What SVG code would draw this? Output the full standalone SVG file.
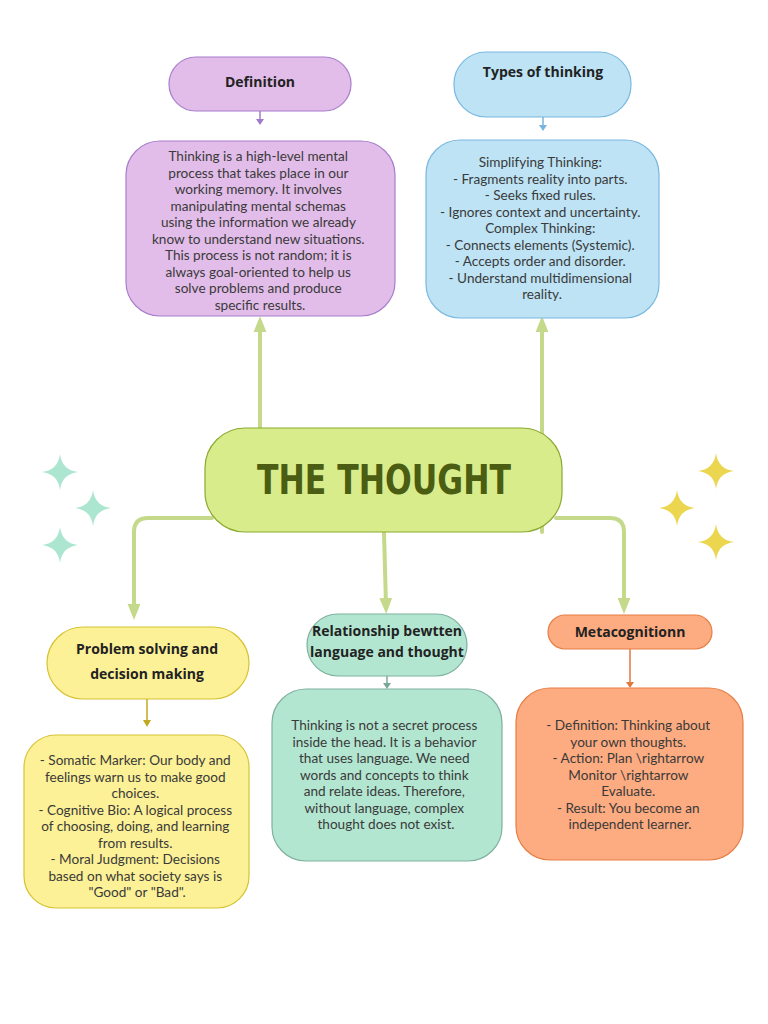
<svg xmlns="http://www.w3.org/2000/svg" width="768" height="1024" viewBox="0 0 768 1024">
<defs>
<style>
.body{font-family:Lato,"Open Sans","DejaVu Sans",sans-serif;font-size:13.6px;fill:#3a3a3a;text-anchor:middle}
.head{font-family:"Open Sans",Lato,"DejaVu Sans",sans-serif;font-size:14px;font-weight:bold;fill:#222;text-anchor:middle}
.conn{fill:none;stroke:#c5d98a;stroke-width:4;stroke-linecap:round}
</style>
<marker id="ga" viewBox="0 0 10 10" refX="5" refY="5" markerWidth="4" markerHeight="4" orient="auto">
<path d="M0,1 L10,5 L0,9 Z" fill="#c5d98a"/>
</marker>
<g id="spark">
<path d="M0,-18 Q2,-2 18,0 Q2,2 0,18 Q-2,2 -18,0 Q-2,-2 0,-18 Z"/>
</g>
</defs>
<rect width="768" height="1024" fill="#ffffff"/>

<g id="connectors">
<path class="conn" d="M260,428 V324" marker-end="url(#ga)"/>
<path class="conn" d="M542,532 V324" marker-end="url(#ga)"/>
<path class="conn" d="M212,518 H148 Q134,518 134,532 V612" marker-end="url(#ga)"/>
<path class="conn" d="M384,532 L386,606" marker-end="url(#ga)"/>
<path class="conn" d="M556,518 H610 Q624,518 624,532 V606" marker-end="url(#ga)"/>
<path d="M260,111 V121" stroke="#a07cc8" stroke-width="1.5"/>
<path d="M256,119 L264,119 L260,125 Z" fill="#a07cc8"/>
<path d="M543,117 V127" stroke="#7ab4dc" stroke-width="1.5"/>
<path d="M539,125 L547,125 L543,131 Z" fill="#7ab4dc"/>
<path d="M147,699 V722" stroke="#c2a820" stroke-width="1.5"/>
<path d="M143,720 L151,720 L147,727 Z" fill="#c2a820"/>
<path d="M387,676 V685" stroke="#7aa898" stroke-width="1.5"/>
<path d="M383,683 L391,683 L387,689 Z" fill="#7aa898"/>
<path d="M630,649 V683" stroke="#e07840" stroke-width="1.5"/>
<path d="M626,682 L634,682 L630,688 Z" fill="#e07840"/>
</g>

<g id="sparkles">
<use href="#spark" x="60" y="472" fill="#ace6d0"/>
<use href="#spark" x="93" y="508" fill="#ace6d0"/>
<use href="#spark" x="60" y="545" fill="#ace6d0"/>
<use href="#spark" x="716" y="471" fill="#ecd650"/>
<use href="#spark" x="677" y="508" fill="#ecd650"/>
<use href="#spark" x="716" y="542" fill="#ecd650"/>
</g>

<g id="definition-title">
<rect x="169" y="57" width="182" height="54" rx="27" fill="#e2bde9" stroke="#a67fcc" stroke-width="1.2"/>
<text class="head" x="260" y="87">Definition</text>
</g>
<g id="definition-body">
<rect x="126" y="141" width="269" height="175" rx="34" fill="#e2bde9" stroke="#a67fcc" stroke-width="1.2"/>
<text class="body">
<tspan x="260" y="161">Thinking is a high-level mental</tspan>
<tspan x="260" y="177.5">process that takes place in our</tspan>
<tspan x="260" y="194">working memory. It involves</tspan>
<tspan x="260" y="210.5">manipulating mental schemas</tspan>
<tspan x="260" y="227">using the information we already</tspan>
<tspan x="260" y="243.5">know to understand new situations.</tspan>
<tspan x="260" y="260">This process is not random; it is</tspan>
<tspan x="260" y="276.5">always goal-oriented to help us</tspan>
<tspan x="260" y="293">solve problems and produce</tspan>
<tspan x="260" y="309.5">specific results.</tspan>
</text>
</g>

<g id="types-title">
<rect x="454" y="52" width="177" height="65" rx="32" fill="#bde3f5" stroke="#7ab8e0" stroke-width="1.2"/>
<text class="head" x="543" y="77">Types of thinking</text>
</g>
<g id="types-body">
<rect x="426" y="140" width="233" height="178" rx="34" fill="#bde3f5" stroke="#7ab8e0" stroke-width="1.2"/>
<text class="body">
<tspan x="542" y="167">Simplifying Thinking:</tspan>
<tspan x="542" y="183.5">- Fragments reality into parts.</tspan>
<tspan x="542" y="200">- Seeks fixed rules.</tspan>
<tspan x="542" y="216.5">- Ignores context and uncertainty.</tspan>
<tspan x="542" y="233">Complex Thinking:</tspan>
<tspan x="542" y="249.5">- Connects elements (Systemic).</tspan>
<tspan x="542" y="266">- Accepts order and disorder.</tspan>
<tspan x="542" y="282.5">- Understand multidimensional</tspan>
<tspan x="542" y="299">reality.</tspan>
</text>
</g>

<g id="central">
<rect x="205" y="428" width="357" height="104" rx="40" fill="#d9ec8b" stroke="#8aaa30" stroke-width="1.2"/>
<text x="384" y="494" font-family="'DejaVu Sans Condensed','Liberation Sans Narrow',sans-serif" font-weight="bold" font-size="40" fill="#4b5d12" text-anchor="middle" textLength="254" lengthAdjust="spacingAndGlyphs">THE THOUGHT</text>
</g>

<g id="problem-title">
<rect x="47" y="627" width="202" height="72" rx="36" fill="#fcf196" stroke="#d6c335" stroke-width="1.2"/>
<text class="head" font-size="15"><tspan x="147" y="654">Problem solving and</tspan><tspan x="147" y="679">decision making</tspan></text>
</g>
<g id="problem-body">
<rect x="24" y="735" width="225" height="173" rx="32" fill="#fcf196" stroke="#d6c335" stroke-width="1.2"/>
<text class="body">
<tspan x="137" y="765">- Somatic Marker: Our body and</tspan>
<tspan x="137" y="781.5">feelings warn us to make good</tspan>
<tspan x="137" y="798">choices.</tspan>
<tspan x="137" y="814.5">- Cognitive Bio: A logical process</tspan>
<tspan x="137" y="831">of choosing, doing, and learning</tspan>
<tspan x="137" y="847.5">from results.</tspan>
<tspan x="137" y="864">- Moral Judgment: Decisions</tspan>
<tspan x="137" y="880.5">based on what society says is</tspan>
<tspan x="137" y="897">"Good" or "Bad".</tspan>
</text>
</g>

<g id="relationship-title">
<rect x="307" y="614" width="160" height="62" rx="31" fill="#b3e6d1" stroke="#7fb0a0" stroke-width="1.2"/>
<text class="head" font-size="11.8"><tspan x="387" y="636">Relationship bewtten</tspan><tspan x="387" y="657">language and thought</tspan></text>
</g>
<g id="relationship-body">
<rect x="272" y="689" width="230" height="172" rx="34" fill="#b3e6d1" stroke="#7fb0a0" stroke-width="1.2"/>
<text class="body">
<tspan x="386" y="730">Thinking is not a secret process</tspan>
<tspan x="386" y="746.5">inside the head. It is a behavior</tspan>
<tspan x="386" y="763">that uses language. We need</tspan>
<tspan x="386" y="779.5">words and concepts to think</tspan>
<tspan x="386" y="796">and relate ideas. Therefore,</tspan>
<tspan x="386" y="812.5">without language, complex</tspan>
<tspan x="386" y="829">thought does not exist.</tspan>
</text>
</g>

<g id="metacognition-title">
<rect x="548" y="615" width="164" height="34" rx="17" fill="#fdab80" stroke="#e77f45" stroke-width="1.2"/>
<text class="head" x="630" y="637">Metacognitionn</text>
</g>
<g id="metacognition-body">
<rect x="516" y="688" width="227" height="172" rx="34" fill="#fdab80" stroke="#e77f45" stroke-width="1.2"/>
<text class="body">
<tspan x="630" y="730">- Definition: Thinking about</tspan>
<tspan x="630" y="746.5">your own thoughts.</tspan>
<tspan x="630" y="763">- Action: Plan \rightarrow</tspan>
<tspan x="630" y="779.5">Monitor \rightarrow</tspan>
<tspan x="630" y="796">Evaluate.</tspan>
<tspan x="630" y="812.5">- Result: You become an</tspan>
<tspan x="630" y="829">independent learner.</tspan>
</text>
</g>
</svg>
